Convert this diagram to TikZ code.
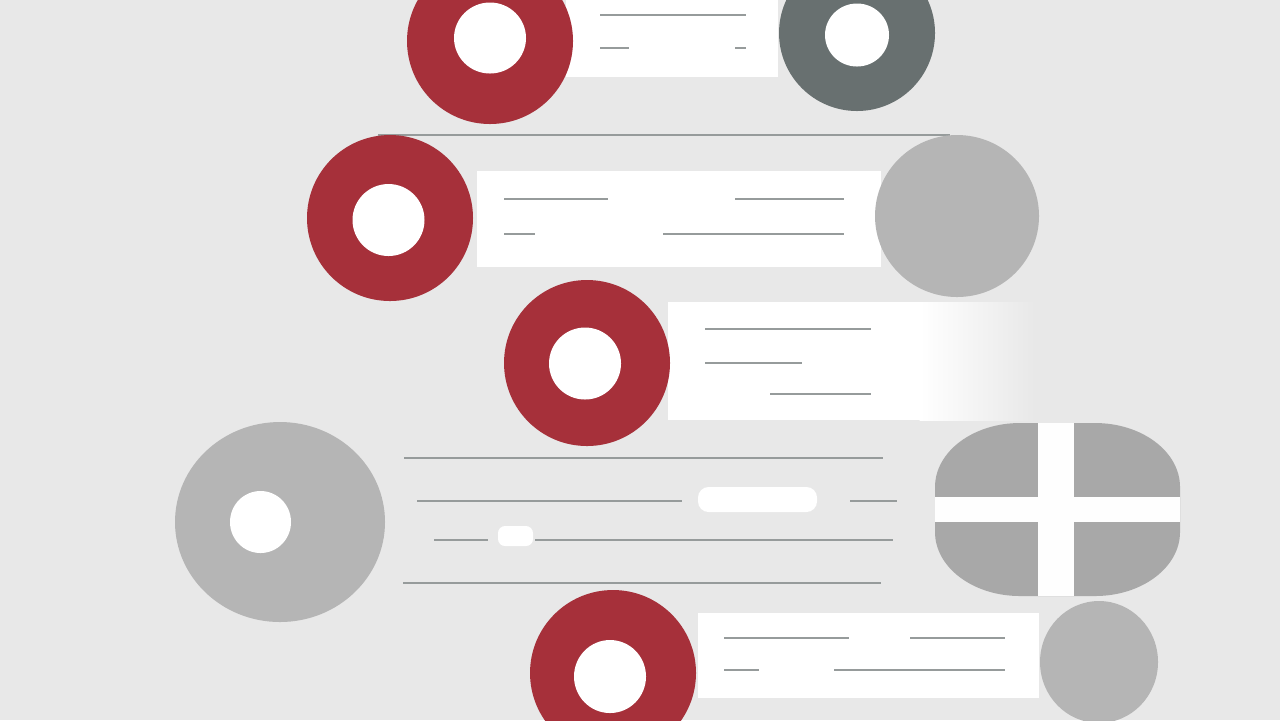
\documentclass[tikz,border=0pt]{standalone}
\begin{document}
\begin{tikzpicture}[x=0.01cm,y=-0.01cm,
  panel/.style={fill=white},
  rule/.style={draw=linecol,line width=0.6pt},
  redring/.style={fill=ringred},
  hole/.style={fill=white},
  crossbar/.style={fill=white!97!bgcol}]
\definecolor{bgcol}{RGB}{232,232,232}
\definecolor{ringred}{RGB}{166,48,58}
\definecolor{darkring}{RGB}{104,112,112}
\definecolor{lightdisc}{RGB}{181,181,181}
\definecolor{crossdisc}{RGB}{168,168,168}
\definecolor{linecol}{RGB}{150,155,155}
\useasboundingbox (0,0) rectangle (1280,720);
\clip (0,0) rectangle (1280,720);
\fill[bgcol] (0,0) rectangle (1280,720);

% ---------- row 1 ----------
\fill[panel] (566,-5) rectangle (778,77);
\draw[rule] (600,15) -- (746,15);
\draw[rule] (600,48) -- (629,48);
\draw[rule] (735,48) -- (746,48);
\fill[redring] (490,41) circle (83);
\fill[hole] (490,38) ellipse (36 and 35.5);
\fill[darkring] (857,33) circle (78);
\fill[hole] (857,35) ellipse (32 and 31.5);

% ---------- row 2 ----------
\draw[rule] (378,135) -- (950,135);
\fill[panel] (477,171) rectangle (881,267);
\draw[rule] (504,199) -- (608,199);
\draw[rule] (735,199) -- (844,199);
\draw[rule] (504,234) -- (535,234);
\draw[rule] (663,234) -- (844,234);
\fill[redring] (390,218) circle (83);
\fill[hole] (388.5,220) circle (36);
\fill[lightdisc] (957,216) ellipse (82 and 81);

% ---------- row 3 ----------
\fill[panel] (668,302) rectangle (920,420);
\shade[left color=white,right color=bgcol] (919.5,302) rectangle (1035,420);
\draw[rule] (705,329) -- (871,329);
\draw[rule] (705,363) -- (802,363);
\draw[rule] (770,394) -- (871,394);
\fill[redring] (587,363) circle (83);
\fill[hole] (585,363.5) circle (36);

% ---------- row 4 ----------
\fill[lightdisc] (280,522) ellipse (105 and 100);
\fill[hole] (260.5,522) ellipse (30.5 and 31);
\draw[rule] (404,458) -- (883,458);
\draw[rule] (417,501) -- (682,501);
\fill[white,rounded corners=3] (698,487) rectangle (817,512);
\draw[rule] (850,501) -- (897,501);
\draw[rule] (434,540) -- (488,540);
\fill[white,rounded corners=2] (498,526) rectangle (533,546);
\draw[rule] (535,540) -- (893,540);
\draw[rule] (403,583) -- (881,583);
\fill[crossdisc] (1020,423) -- (1095,423) arc (270:360:85 and 64)
  -- (1180,532) arc (0:90:85 and 64)
  -- (1020,596) arc (90:180:85 and 64)
  -- (935,487) arc (180:270:85 and 64) -- cycle;
\fill[crossbar] (1038,423) rectangle (1074,596);
\fill[crossbar] (935,497) rectangle (1180,522);

% ---------- row 5 ----------
\fill[panel] (698,613) rectangle (1039,698);
\draw[rule] (724,638) -- (849,638);
\draw[rule] (910,638) -- (1005,638);
\draw[rule] (724,670) -- (759,670);
\draw[rule] (834,670) -- (1005,670);
\fill[redring] (613,673) circle (83);
\fill[hole] (610,676.5) ellipse (36 and 36.5);
\fill[lightdisc] (1099,662) ellipse (59 and 61);
\end{tikzpicture}
\end{document}
